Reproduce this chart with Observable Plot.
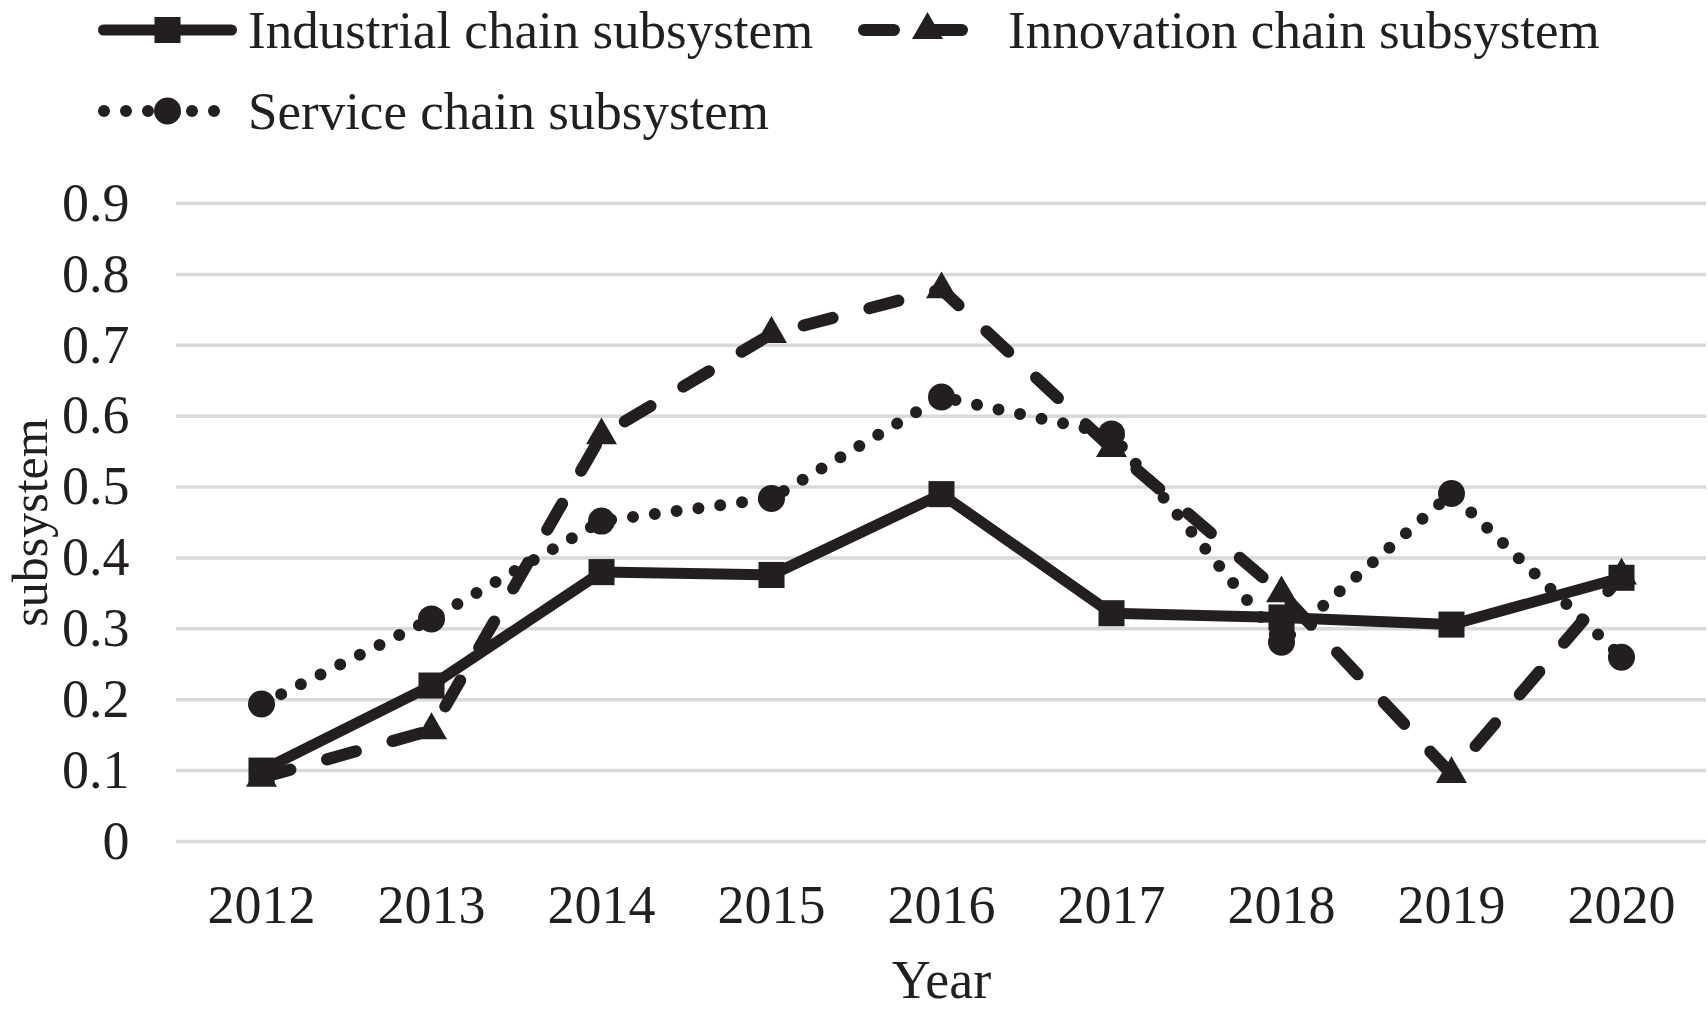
<!DOCTYPE html>
<html>
<head>
<meta charset="utf-8">
<script src="https://cdn.jsdelivr.net/npm/d3@7"></script>
<script src="https://cdn.jsdelivr.net/npm/@observablehq/plot@0.6"></script>
<style>
  body { margin: 0; background: #fff; }
  #wrap { width: 1708px; height: 1009px; position: relative; overflow: hidden;
          font-family: "Liberation Serif", "Times New Roman", serif; color: #231f20; }
  #legend { display: block; }
  #chart svg { display: block; }
</style>
</head>
<body>
<div id="wrap">
  <svg id="legend" width="1708" height="150"></svg>
  <div id="chart"></div>
</div>
<script>
// ---- data ----
const years = ["2012", "2013", "2014", "2015", "2016", "2017", "2018", "2019", "2020"];
const industrial = [0.10, 0.22, 0.38, 0.376, 0.49, 0.322, 0.316, 0.306, 0.372];
const innovation = [0.09, 0.157, 0.573, 0.716, 0.779, 0.555, 0.35, 0.095, 0.375];
const service = [0.194, 0.314, 0.452, 0.484, 0.627, 0.575, 0.281, 0.491, 0.26];
const seriesNames = ["Industrial chain subsystem", "Innovation chain subsystem", "Service chain subsystem"];
const yTicks = [0, 0.1, 0.2, 0.3, 0.4, 0.5, 0.6, 0.7, 0.8, 0.9];
const xLabel = "Year";
const yLabel = "subsystem";

// ---- styles ----
const ink = "#231f20";
const styles = [
  {dash: null, width: 11, symbol: "square", r: 14.7},
  {dash: "30 38", width: 12, symbol: "triangle", r: 11.5},
  {dash: "0 22", width: 12, symbol: "circle", r: 13.5}
];
const seriesValues = [industrial, innovation, service];

const rows = seriesNames.flatMap((name, i) =>
  years.map((year, j) => ({series: name, year, value: seriesValues[i][j]})));

// ---- legend ----
const leg = d3.select("#legend");
const legendItems = [
  {i: 0, x0: 98, x1: 237, y: 30, tx: 248, ty: 48},
  {i: 1, x0: 858, x1: 997, y: 30, tx: 1008, ty: 48},
  {i: 2, x0: 98, x1: 237, y: 111, tx: 248, ty: 129}
];
for (const it of legendItems) {
  const st = styles[it.i];
  const line = leg.append("line")
    .attr("x1", it.x0 + st.width / 2).attr("x2", it.x1 - st.width / 2)
    .attr("y1", it.y).attr("y2", it.y)
    .attr("stroke", ink).attr("stroke-width", st.width)
    .attr("stroke-linecap", "round");
  if (st.dash) line.attr("stroke-dasharray", st.dash);
  const cx = (it.x0 + it.x1) / 2;
  const sym = {square: d3.symbolSquare, triangle: d3.symbolTriangle, circle: d3.symbolCircle}[st.symbol];
  leg.append("path")
    .attr("d", d3.symbol(sym, Math.PI * st.r * st.r)())
    .attr("transform", `translate(${cx},${it.y})`)
    .attr("fill", ink);
  leg.append("text")
    .attr("x", it.tx).attr("y", it.ty)
    .attr("font-size", 53)
    .attr("fill", ink)
    .text(seriesNames[it.i]);
}

// ---- chart ----
const marks = [
  Plot.gridY(yTicks, {stroke: "#d9d9d9", strokeOpacity: 1, strokeWidth: 3.5}),
  Plot.axisY(yTicks, {
    tickSize: 0, tickPadding: 47, fontSize: 54, label: null,
    tickFormat: d => d === 0 ? "0" : d.toFixed(1)
  }),
  Plot.axisX({tickSize: 0, tickPadding: 43, fontSize: 54,
    label: xLabel, labelAnchor: "center", labelOffset: 156}),
  Plot.text([yLabel], {frameAnchor: "left", rotate: -90, dx: -146, fontSize: 50,
    textAnchor: "middle", lineAnchor: "middle", text: d => d, fill: ink})
];
seriesNames.forEach((name, i) => {
  const st = styles[i];
  const data = rows.filter(r => r.series === name);
  marks.push(Plot.lineY(data, {
    x: "year", y: "value", stroke: ink, strokeWidth: st.width,
    strokeDasharray: st.dash ?? undefined,
    strokeLinecap: "round", strokeLinejoin: "round"
  }));
  marks.push(Plot.dot(data, {
    x: "year", y: "value", symbol: st.symbol, r: st.r, fill: ink, stroke: "none"
  }));
});

const chart = Plot.plot({
  width: 1708,
  height: 859,
  marginTop: 53,
  marginBottom: 168,
  marginLeft: 176,
  marginRight: 2,
  style: {fontFamily: '"Liberation Serif", "Times New Roman", serif', color: ink, background: "transparent", overflow: "visible"},
  x: {type: "point", domain: years, padding: 0.5},
  y: {domain: [0, 0.9]},
  marks
});
document.getElementById("chart").appendChild(chart);
</script>
</body>
</html>
